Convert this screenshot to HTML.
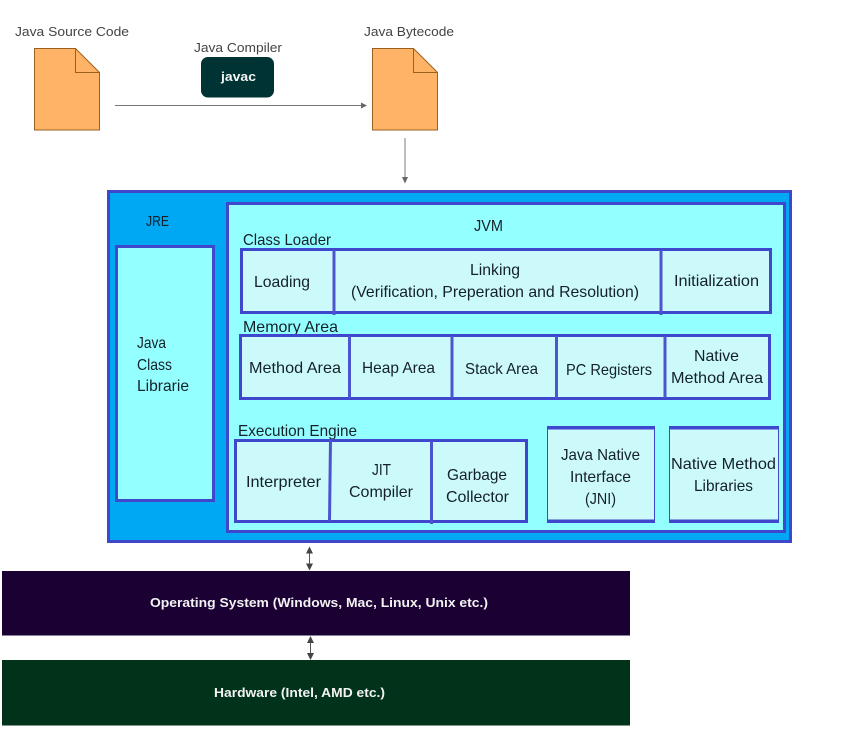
<!DOCTYPE html>
<html>
<head>
<meta charset="utf-8">
<style>
html,body{margin:0;padding:0;background:#fff;width:862px;height:737px;overflow:hidden}
svg{display:block}
text{font-family:"Liberation Sans",sans-serif}
.t{font-size:16px;fill:#14202a}
.g{font-size:12.5px;fill:#444}
.b{font-size:13px;font-weight:bold;fill:#f2f2f2}
.box{fill:#ccfafa;stroke:#3f48cc;stroke-width:3}
.div{stroke:#4a55cf;stroke-width:3}
</style>
</head>
<body>
<svg width="862" height="737" viewBox="0 0 862 737" xmlns="http://www.w3.org/2000/svg">
<rect width="862" height="737" fill="#fff"/>

<!-- Top labels -->
<text class="g" x="15" y="36" textLength="114" lengthAdjust="spacingAndGlyphs">Java Source Code</text>
<text class="g" x="194" y="52" textLength="88" lengthAdjust="spacingAndGlyphs">Java Compiler</text>
<text class="g" x="364" y="36" textLength="90" lengthAdjust="spacingAndGlyphs">Java Bytecode</text>

<!-- Documents -->
<g fill="#ffb366" stroke="#99601f" stroke-width="1">
<path d="M34.5 48.5H75.5L99.5 72.5V130H34.5Z"/>
<path d="M75.5 48.5V72.5H99.5" fill="none"/>
<path d="M372.5 48.5H413.5L437.5 72.5V130H372.5Z"/>
<path d="M413.5 48.5V72.5H437.5" fill="none"/>
</g>

<!-- javac -->
<rect x="201" y="57" width="73" height="40.500" rx="7" fill="#003333"/>
<text x="221" y="81" font-size="13" font-weight="bold" fill="#f4f4f4" textLength="35" lengthAdjust="spacingAndGlyphs">javac</text>

<!-- Arrows -->
<line x1="115" y1="105.500" x2="362" y2="105.500" stroke="#777" stroke-width="1"/>
<path d="M367 105.500L361 102.500V108.500Z" fill="#666"/>
<line x1="405" y1="138" x2="405" y2="178" stroke="#999" stroke-width="1.300"/>
<path d="M405 183.500L402 177H408Z" fill="#666"/>

<!-- JRE outer -->
<rect x="108.500" y="191.500" width="682" height="350" fill="#00a8f3" stroke="#3f48cc" stroke-width="3"/>
<text class="t" x="146" y="226" textLength="23" lengthAdjust="spacingAndGlyphs" style="font-size:15px">JRE</text>

<!-- Java class library -->
<rect x="116.500" y="246.500" width="97" height="254" fill="#94ffff" stroke="#3f48cc" stroke-width="3"/>
<text class="t" x="137" y="348" textLength="29" lengthAdjust="spacingAndGlyphs">Java</text>
<text class="t" x="137" y="370" textLength="35" lengthAdjust="spacingAndGlyphs">Class</text>
<text class="t" x="137" y="391" textLength="52" lengthAdjust="spacingAndGlyphs">Librarie</text>

<!-- JVM -->
<rect x="227.500" y="203.500" width="557" height="328" fill="#94ffff" stroke="#3f48cc" stroke-width="3"/>
<text class="t" x="474" y="231" textLength="29" lengthAdjust="spacingAndGlyphs">JVM</text>

<!-- Class Loader -->
<text class="t" x="243" y="245" textLength="88" lengthAdjust="spacingAndGlyphs">Class Loader</text>
<rect class="box" x="241.500" y="249.500" width="529" height="63"/>
<line class="div" x1="334" y1="250" x2="334" y2="315"/>
<line class="div" x1="661" y1="250" x2="661" y2="315"/>
<text class="t" x="254" y="287" textLength="56" lengthAdjust="spacingAndGlyphs">Loading</text>
<text class="t" x="470" y="275" textLength="50" lengthAdjust="spacingAndGlyphs">Linking</text>
<text class="t" x="351" y="297" textLength="288" lengthAdjust="spacingAndGlyphs">(Verification, Preperation and Resolution)</text>
<text class="t" x="674" y="286" textLength="85" lengthAdjust="spacingAndGlyphs">Initialization</text>

<!-- Memory Area -->
<text class="t" x="243" y="332" textLength="95" lengthAdjust="spacingAndGlyphs">Memory Area</text>
<rect class="box" x="240.500" y="335.500" width="529" height="63"/>
<line class="div" x1="349.500" y1="336" x2="349.500" y2="398"/>
<line class="div" x1="452" y1="336" x2="452" y2="398"/>
<line class="div" x1="556.500" y1="336" x2="556.500" y2="398"/>
<line class="div" x1="665" y1="336" x2="665" y2="398"/>
<text class="t" x="249" y="373" textLength="92" lengthAdjust="spacingAndGlyphs">Method Area</text>
<text class="t" x="362" y="373" textLength="73" lengthAdjust="spacingAndGlyphs">Heap Area</text>
<text class="t" x="465" y="374" textLength="73" lengthAdjust="spacingAndGlyphs">Stack Area</text>
<text class="t" x="566" y="375" textLength="86" lengthAdjust="spacingAndGlyphs">PC Registers</text>
<text class="t" x="694" y="361" textLength="45" lengthAdjust="spacingAndGlyphs">Native</text>
<text class="t" x="671" y="383" textLength="92" lengthAdjust="spacingAndGlyphs">Method Area</text>

<!-- Execution Engine -->
<text class="t" x="238" y="436" textLength="119" lengthAdjust="spacingAndGlyphs">Execution Engine</text>
<rect class="box" x="235.500" y="440.500" width="291" height="81"/>
<line class="div" x1="330.500" y1="440" x2="329.500" y2="521"/>
<line class="div" x1="431.500" y1="441" x2="431.500" y2="524"/>
<text class="t" x="246" y="487" textLength="75" lengthAdjust="spacingAndGlyphs">Interpreter</text>
<text class="t" x="372" y="475" textLength="19" lengthAdjust="spacingAndGlyphs">JIT</text>
<text class="t" x="349" y="497" textLength="64" lengthAdjust="spacingAndGlyphs">Compiler</text>
<text class="t" x="447" y="480" textLength="60" lengthAdjust="spacingAndGlyphs">Garbage</text>
<text class="t" x="446" y="502" textLength="63" lengthAdjust="spacingAndGlyphs">Collector</text>

<!-- JNI -->
<rect x="547.500" y="428" width="107" height="93" fill="#ccfafa" stroke="#3f48cc" stroke-width="1"/>
<rect x="547" y="426" width="108" height="3.500" fill="#3f48cc"/>
<rect x="547" y="519.500" width="108" height="3.500" fill="#3f48cc"/>
<text class="t" x="561" y="460" textLength="79" lengthAdjust="spacingAndGlyphs">Java Native</text>
<text class="t" x="570" y="482" textLength="61" lengthAdjust="spacingAndGlyphs">Interface</text>
<text class="t" x="585" y="504" textLength="31" lengthAdjust="spacingAndGlyphs">(JNI)</text>

<!-- NML -->
<rect x="669.500" y="428" width="109" height="93" fill="#ccfafa" stroke="#3f48cc" stroke-width="1"/>
<rect x="669" y="426" width="110" height="3.500" fill="#3f48cc"/>
<rect x="669" y="519.500" width="110" height="3.500" fill="#3f48cc"/>
<text class="t" x="671" y="469" textLength="105" lengthAdjust="spacingAndGlyphs">Native Method</text>
<text class="t" x="694" y="491" textLength="59" lengthAdjust="spacingAndGlyphs">Libraries</text>

<!-- OS / HW -->
<rect x="2" y="571" width="628" height="64.500" fill="#1a0033"/>
<text class="b" x="150" y="607" textLength="338" lengthAdjust="spacingAndGlyphs">Operating System (Windows, Mac, Linux, Unix etc.)</text>
<rect x="2" y="660" width="628" height="65.500" fill="#00331a"/>
<text class="b" x="214" y="697" textLength="171" lengthAdjust="spacingAndGlyphs">Hardware (Intel, AMD etc.)</text>

<!-- Double arrows -->
<line x1="309.500" y1="550" x2="309.500" y2="567" stroke="#555" stroke-width="1"/>
<path d="M309.500 546.500L306 553.500H313ZM309.500 570.500L306 563.500H313Z" fill="#444"/>
<line x1="310.500" y1="640" x2="310.500" y2="656" stroke="#555" stroke-width="1"/>
<path d="M310.500 636L307 643H314ZM310.500 660L307 653H314Z" fill="#444"/>
</svg>
</body>
</html>
